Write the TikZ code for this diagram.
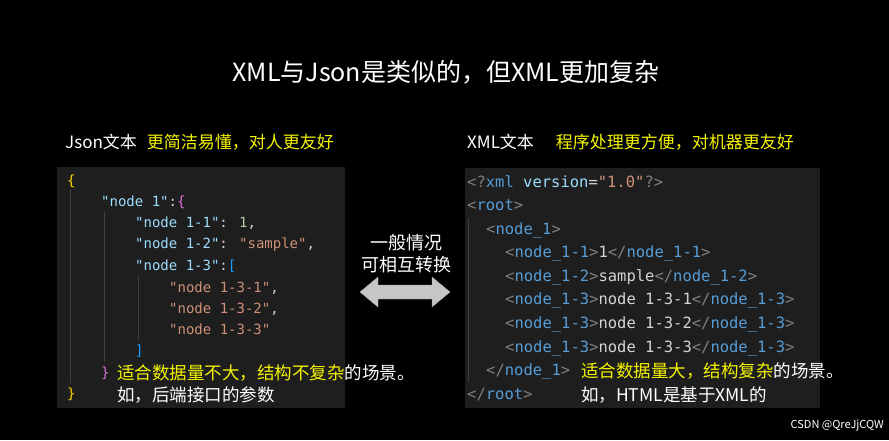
\documentclass[tikz,border=0pt]{standalone}
\usepackage{fontspec}
\setmainfont{Noto Sans CJK SC}
\newfontfamily\code{DejaVu Sans Mono}
\definecolor{pan}{HTML}{1E1E1E}
\definecolor{key}{HTML}{9CDCFE}
\definecolor{str}{HTML}{CE9178}
\definecolor{num}{HTML}{B5CEA8}
\definecolor{by}{HTML}{FFD700}
\definecolor{bp}{HTML}{DA70D6}
\definecolor{bb}{HTML}{179FFF}
\definecolor{tg}{HTML}{808080}
\definecolor{tn}{HTML}{569CD6}
\definecolor{tx}{HTML}{D4D4D4}
\definecolor{ye}{HTML}{F5F500}
\definecolor{guide}{HTML}{404040}
\tikzset{
 jl/.style={anchor=base west,inner sep=0,font=\code\fontsize{14}{14}\selectfont,text=tx},
 xl/.style={anchor=base west,inner sep=0,font=\code\fontsize{15.5}{15.5}\selectfont,text=tx},
 cn/.style={anchor=base west,inner sep=0,font=\fontsize{17.5}{17.5}\selectfont,text=white},
 hd/.style={anchor=base west,inner sep=0,font=\fontsize{17}{17}\selectfont,text=white},
}
\newcommand\T[1]{\textcolor{tg}{<}\textcolor{tn}{#1}\textcolor{tg}{>}}
\newcommand\E[1]{\textcolor{tg}{</}\textcolor{tn}{#1}\textcolor{tg}{>}}
\begin{document}
\begin{tikzpicture}[x=1pt,y=-1pt]
\fill[black] (0,0) rectangle (889,440);
\node[inner sep=0,text=white,font=\fontsize{25}{25}\selectfont] (title) at (446,72) {XML与Json是类似的，但XML更加复杂};
\node[hd] (jt) at (65,148) {Json文本\hspace{10pt}\textcolor{ye}{更简洁易懂，对人更友好}};
\node[hd] (xt) at (467,148) {XML文本\hspace{22pt}\textcolor{ye}{程序处理更方便，对机器更友好}};
% panels
\fill[pan] (57,167) rectangle (345,408);
\fill[pan] (465,168) rectangle (820,408);
% guides
\draw[guide] (70,190) -- (70,383);
\draw[guide] (104,212) -- (104,362);
\draw[guide] (138,276) -- (138,340);
\draw[guide] (468,218) -- (468,382);
% json
\node[jl] (j1) at (67,185) {\textcolor{by}{\{}};
\node[jl] (j2) at (101,206) {\textcolor{key}{"node 1"}:\textcolor{bp}{\{}};
\node[jl] (j3) at (135,227) {\textcolor{key}{"node 1-1"}: \textcolor{num}{1},};
\node[jl] (j4) at (135,248) {\textcolor{key}{"node 1-2"}: \textcolor{str}{"sample"},};
\node[jl] (j5) at (135,270) {\textcolor{key}{"node 1-3"}:\textcolor{bb}{[}};
\node[jl] (j6) at (169,292) {\textcolor{str}{"node 1-3-1"},};
\node[jl] (j7) at (169,313) {\textcolor{str}{"node 1-3-2"},};
\node[jl] (j8) at (169,334) {\textcolor{str}{"node 1-3-3"}};
\node[jl] (j9) at (135,355) {\textcolor{bb}{]}};
\node[jl] (j10) at (101,377) {\textcolor{bp}{\}}};
\node[jl] (j11) at (67,398) {\textcolor{by}{\}}};
\node[cn] (ja) at (117,379) {\textcolor{ye}{适合数据量不大，结构不复杂}的场景。};
\node[cn] (jb) at (117,401) {如，后端接口的参数};
% xml
\node[xl] (x1) at (467,187) {\textcolor{tg}{<?}\textcolor{tn}{xml} \textcolor{key}{version}=\textcolor{str}{"1.0"}\textcolor{tg}{?>}};
\node[xl] (x2) at (467,210) {\T{root}};
\node[xl] (x3) at (486,234) {\T{node\_1}};
\node[xl] (x4) at (505,257) {\T{node\_1-1}1\E{node\_1-1}};
\node[xl] (x5) at (505,281) {\T{node\_1-2}sample\E{node\_1-2}};
\node[xl] (x6) at (505,304) {\T{node\_1-3}node 1-3-1\E{node\_1-3}};
\node[xl] (x7) at (505,328) {\T{node\_1-3}node 1-3-2\E{node\_1-3}};
\node[xl] (x8) at (505,352) {\T{node\_1-3}node 1-3-3\E{node\_1-3}};
\node[xl] (x9) at (486,375) {\E{node\_1}};
\node[xl] (x10) at (467,399) {\E{root}};
\node[cn] (xa) at (581,377) {\textcolor{ye}{适合数据量大，结构复杂}的场景。};
\node[cn] (xb) at (581,401) {如，HTML是基于XML的};
% middle
\node[inner sep=0,text=white,font=\fontsize{18}{18}\selectfont] (m1) at (406,243) {一般情况};
\node[inner sep=0,text=white,font=\fontsize{18}{18}\selectfont] (m2) at (406,265) {可相互转换};
\fill[gray!45,draw=gray!70] (360,292) -- (378,277) -- (378,285) -- (432,285) -- (432,277) -- (450,292) -- (432,307) -- (432,299) -- (378,299) -- (378,307) -- cycle;
\node[anchor=base east,inner sep=0,text=white,font=\fontsize{11}{11}\selectfont] (wm) at (884,428) {CSDN @QreJjCQW};
\end{tikzpicture}
\end{document}
